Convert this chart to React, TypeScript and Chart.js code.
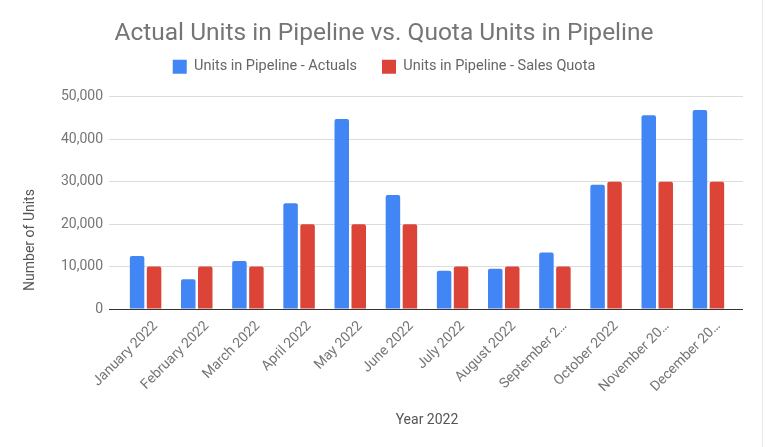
import React, { useEffect, useRef } from "react";
import { Chart, registerables, layouts } from "chart.js";

Chart.register(...registerables);

const categories = [
  "January 2022", "February 2022", "March 2022", "April 2022", "May 2022", "June 2022",
  "July 2022", "August 2022", "September 2022", "October 2022", "November 2022", "December 2022",
];
const tickLabels = [
  "January 2022", "February 2022", "March 2022", "April 2022", "May 2022", "June 2022",
  "July 2022", "August 2022", "September 2…", "October 2022", "November 20…", "December 20…",
];
const actuals = [12500, 7000, 11300, 24900, 44800, 26900, 9000, 9500, 13300, 29300, 45700, 46900];
const quota = [10000, 10000, 10000, 20000, 20000, 20000, 10000, 10000, 10000, 30000, 30000, 30000];
const seriesNames = ["Units in Pipeline - Actuals", "Units in Pipeline - Sales Quota"];
const titleText = "Actual Units in Pipeline vs. Quota Units in Pipeline";
const yTitle = "Number of Units";
const xTitle = "Year 2022";

const FONT = "Roboto";
const GREY = "#757575";
const GRID = "#dcdcdc";
const AXIS = "#333333";

const gridColor = (ctx: any) => (ctx.tick && ctx.tick.value === 0 ? AXIS : GRID);

const yTitlePlugin = {
  id: "yTitlePlugin",
  afterDraw(chart: any) {
    const ctx = chart.ctx;
    ctx.save();
    ctx.font = `14px ${FONT}`;
    ctx.fillStyle = "#555555";
    ctx.textAlign = "center";
    ctx.textBaseline = "middle";
    ctx.translate(30, 240);
    ctx.rotate(-Math.PI / 2);
    ctx.fillText(yTitle, 0, 0);
    ctx.restore();
  },
};

const spacerPlugin = {
  id: "legendSpacer",
  beforeInit(chart: any) {
    const box: any = {
      position: "top",
      weight: 0,
      fullSize: true,
      options: {},
      top: 0, left: 0, right: 0, bottom: 0, width: 0, height: 0,
      isHorizontal() { return true; },
      update(maxWidth: number) { this.width = maxWidth; this.height = 13; },
      getPadding() { return { top: 0, left: 0, right: 0, bottom: 0 }; },
      draw() {},
    };
    layouts.addBox(chart, box);
  },
};

export default function App() {
  const ref = useRef<HTMLCanvasElement>(null);
  useEffect(() => {
    document.body.style.margin = "0";
    const chart = new Chart(ref.current!, {
      type: "bar",
      data: {
        labels: categories,
        datasets: [
          {
            label: seriesNames[0],
            data: actuals,
            backgroundColor: "#4285F4",
            borderRadius: { topLeft: 2, topRight: 2 },
            borderSkipped: "bottom",
          },
          {
            label: seriesNames[1],
            data: quota,
            backgroundColor: "#DB4437",
            borderRadius: { topLeft: 2, topRight: 2 },
            borderSkipped: "bottom",
          },
        ],
      },
      options: {
        animation: false,
        responsive: false,
        maintainAspectRatio: false,
        layout: { padding: { top: 0, left: 0, right: 0, bottom: 0 } },
        datasets: { bar: { categoryPercentage: 0.664, barPercentage: 0.853 } },
        plugins: {
          title: {
            display: true,
            text: titleText,
            color: GREY,
            font: { family: FONT, size: 24.5, weight: "normal" },
            padding: { top: 19, bottom: -14 },
          },
          legend: {
            display: true,
            labels: {
              color: "#666666",
              font: { family: FONT, size: 14.5 },
              boxWidth: 14,
              boxHeight: 14,
              padding: 25,
            },
          },
          tooltip: { enabled: false },
        },
        scales: {
          x: {
            grid: { display: false, drawTicks: false },
            border: { display: true, color: AXIS, width: 1 },
            ticks: {
              color: GREY,
              font: { family: FONT, size: 14 },
              minRotation: 45,
              maxRotation: 45,
              autoSkip: false,
              padding: 9,
              labelOffset: 10,
              callback: (_v: any, i: number) => tickLabels[i],
            },
            title: {
              display: true,
              text: xTitle,
              color: "#555555",
              font: { family: FONT, size: 14 },
              padding: { top: 0, bottom: 18 },
            },
            afterFit: (s: any) => {
              s.height = 138;
            },
          },
          y: {
            min: 0,
            max: 50000,
            grid: { color: gridColor, drawTicks: true, tickLength: 11 },
            border: { display: false },
            ticks: {
              stepSize: 10000,
              color: GREY,
              font: { family: FONT, size: 14 },
              padding: 6,
            },
            afterFit: (s: any) => {
              s.width = 120;
            },
          },
          yRight: {
            position: "right",
            min: 0,
            max: 50000,
            grid: { color: gridColor, drawTicks: true, tickLength: 9, drawOnChartArea: false },
            border: { display: false },
            ticks: { stepSize: 10000, display: false },
            afterFit: (s: any) => {
              s.width = 34;
            },
          },
        },
      },
      plugins: [yTitlePlugin, spacerPlugin],
    });
    return () => chart.destroy();
  }, []);
  return (
    <div style={{ width: 768, height: 447, position: "relative", background: "#fff" }}>
      <canvas ref={ref} width={768} height={447} style={{ width: 768, height: 447, display: "block" }} />
      <div style={{ position: "absolute", left: 762, top: 0, width: 1, height: 447, background: "#e6e6e6" }} />
    </div>
  );
}
